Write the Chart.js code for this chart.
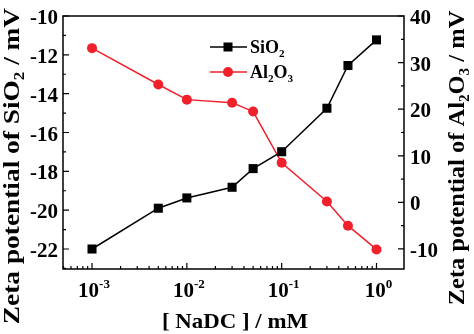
<!DOCTYPE html>
<html>
<head>
<meta charset="utf-8">
<script src="https://cdn.jsdelivr.net/npm/chart.js@4"></script>
<style>
  html, body { margin: 0; padding: 0; background: #fff; }
  #zeta { display: block; }
</style>
</head>
<body>
<canvas id="zeta" width="474" height="334"></canvas>
<script>
// NaDC concentration (mM)
const nadc = [0.001, 0.005, 0.01, 0.03, 0.05, 0.1, 0.3, 0.5, 1.0];
// zeta potentials (mV)
const sio2 = [-22.0, -19.9, -19.37, -18.82, -17.86, -16.99, -14.75, -12.55, -11.23];
const al2o3 = [33.1, 25.3, 22.05, 21.4, 19.5, 8.5, 0.2, -5.0, -10.1];

const leftTicks = [-10, -12, -14, -16, -18, -20, -22];
const rightTicks = [40, 30, 20, 10, 0, -10];
const xTicks = [0.001, 0.01, 0.1, 1];

const RED = '#f0212b';
const FONT = '"Liberation Serif", "Times New Roman", serif';

// draw text made of parts, some of them sub/superscript
function richWidth(ctx, parts, size) {
    let w = 0;
    parts.forEach(p => {
        const s = (p.sub || p.sup) ? size * 0.62 : size;
        ctx.font = `bold ${s}px ${FONT}`;
        w += ctx.measureText(p.t).width;
    });
    return w;
}

function drawRich(ctx, parts, x, y, size, align, stretch) {
    stretch = stretch || 1;
    const w = richWidth(ctx, parts, size) * stretch;
    let cx = x;
    if (align === 'center') cx = x - w / 2;
    if (align === 'right') cx = x - w;
    ctx.save();
    ctx.translate(cx, y);
    ctx.scale(stretch, 1);
    ctx.textAlign = 'left';
    ctx.textBaseline = 'alphabetic';
    let px = 0;
    parts.forEach(p => {
        const s = (p.sub || p.sup) ? size * 0.62 : size;
        let dy = 0;
        if (p.sub) dy = size * 0.22;
        if (p.sup) dy = -size * 0.42;
        ctx.font = `bold ${s}px ${FONT}`;
        ctx.fillText(p.t, px, dy);
        px += ctx.measureText(p.t).width;
    });
    ctx.restore();
}

const framePlugin = {
    id: 'frame',
    afterDraw(chart) {
        const ctx = chart.ctx;
        const a = chart.chartArea;
        const x = chart.scales.x, y = chart.scales.y, y2 = chart.scales.y2;
        ctx.save();
        ctx.strokeStyle = '#000';
        ctx.fillStyle = '#000';
        ctx.lineWidth = 1.5;
        ctx.strokeRect(a.left, a.top, a.right - a.left, a.bottom - a.top);

        ctx.lineWidth = 1.2;
        ctx.beginPath();
        // left axis ticks
        for (let v = -23; v <= -10; v++) {
            const py = y.getPixelForValue(v);
            const len = v % 2 === 0 ? 6 : 3;
            ctx.moveTo(a.left, py); ctx.lineTo(a.left + len, py);
        }
        // right axis ticks
        for (let v = -10; v <= 40; v += 5) {
            const py = y2.getPixelForValue(v);
            const len = v % 10 === 0 ? 6 : 3;
            ctx.moveTo(a.right, py); ctx.lineTo(a.right - len, py);
        }
        // log ticks on x
        for (let e = -4; e <= 0; e++) {
            for (let m = 1; m <= 9; m++) {
                const v = m * Math.pow(10, e);
                if (v < x.min || v > x.max) continue;
                const px = x.getPixelForValue(v);
                const len = m === 1 ? 6 : 3;
                ctx.moveTo(px, a.bottom); ctx.lineTo(px, a.bottom - len);
            }
        }
        ctx.stroke();

        // tick labels
        leftTicks.forEach(v => {
            drawRich(ctx, [{ t: String(v).replace('-', '\u2011') }], a.left - 5, y.getPixelForValue(v) + 8, 21, 'right');
        });
        rightTicks.forEach(v => {
            drawRich(ctx, [{ t: String(v).replace('-', '\u2011') }], a.right + 6, y2.getPixelForValue(v) + 8, 21, 'left');
        });
        xTicks.forEach(v => {
            const ex = Math.round(Math.log10(v));
            drawRich(ctx, [{ t: '10' }, { t: String(ex).replace('-', '\u2011'), sup: true }], x.getPixelForValue(v) + 2, 297, 21, 'center');
        });

        // axis titles
        drawRich(ctx, [{ t: '[ NaDC ] / mM' }], 235, 328, 22, 'center', 1.04);

        ctx.save();
        ctx.translate(19, 166);
        ctx.rotate(-Math.PI / 2);
        drawRich(ctx, [{ t: 'Zeta potential of SiO' }, { t: '2', sub: true }, { t: ' / mV' }], 0, 0, 24, 'center', 1.14);
        ctx.restore();

        ctx.save();
        ctx.translate(464, 158);
        ctx.rotate(-Math.PI / 2);
        drawRich(ctx, [{ t: 'Zeta potential of Al' }, { t: '2', sub: true }, { t: 'O' }, { t: '3', sub: true }, { t: ' / mV' }], 0, 0, 24, 'center', 1.02);
        ctx.restore();

        // legend
        const items = [
            { parts: [{ t: 'SiO' }, { t: '2', sub: true }], color: '#000', style: 'rect', yy: 47 },
            { parts: [{ t: 'Al' }, { t: '2', sub: true }, { t: 'O' }, { t: '3', sub: true }], color: RED, style: 'circle', yy: 72 }
        ];
        items.forEach(it => {
            ctx.strokeStyle = it.color;
            ctx.fillStyle = it.color;
            ctx.lineWidth = 1.5;
            ctx.beginPath();
            ctx.moveTo(210, it.yy); ctx.lineTo(247, it.yy);
            ctx.stroke();
            if (it.style === 'rect') {
                ctx.fillRect(223.5, it.yy - 4.5, 9, 9);
            } else {
                ctx.beginPath();
                ctx.arc(228, it.yy, 5, 0, Math.PI * 2);
                ctx.fill();
            }
            ctx.fillStyle = '#000';
            drawRich(ctx, it.parts, 250, it.yy + 6, 18, 'left');
        });
        ctx.restore();
    }
};

new Chart(document.getElementById('zeta'), {
    type: 'line',
    data: {
        datasets: [
            {
                label: 'SiO2',
                data: nadc.map((c, i) => ({ x: c, y: sio2[i] })),
                yAxisID: 'y',
                borderColor: '#000',
                backgroundColor: '#000',
                borderWidth: 1.5,
                pointStyle: 'rect',
                pointRadius: 6.4,
                pointBorderWidth: 0
            },
            {
                label: 'Al2O3',
                data: nadc.map((c, i) => ({ x: c, y: al2o3[i] })),
                yAxisID: 'y2',
                borderColor: RED,
                backgroundColor: RED,
                borderWidth: 1.5,
                pointStyle: 'circle',
                pointRadius: 5,
                pointBorderWidth: 0
            }
        ]
    },
    options: {
        responsive: false,
        animation: false,
        devicePixelRatio: 1,
        layout: { padding: { left: 63, top: 16, right: 70, bottom: 65 } },
        plugins: { legend: { display: false }, tooltip: { enabled: false } },
        scales: {
            x: { type: 'logarithmic', display: false, min: Math.pow(10, -3.306), max: Math.pow(10, 0.29) },
            y: { type: 'linear', display: false, position: 'left', min: -23.03, max: -10 },
            y2: { type: 'linear', display: false, position: 'right', min: -14.3, max: 40 }
        }
    },
    plugins: [framePlugin]
});
</script>
</body>
</html>
